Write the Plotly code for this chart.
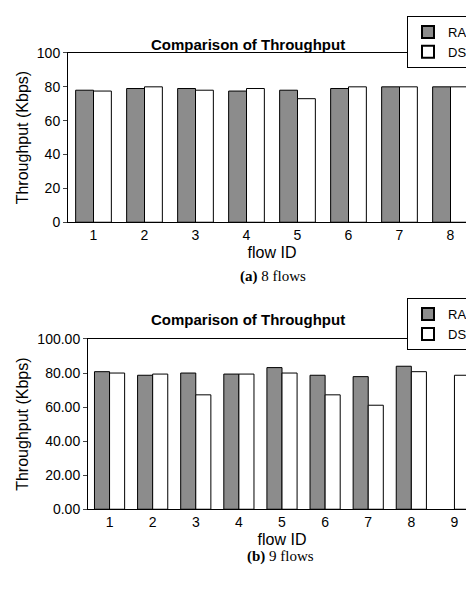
import plotly.graph_objects as go

flows_a = ["1", "2", "3", "4", "5", "6", "7", "8"]
rab_a = [78, 79, 79, 77.5, 78, 79, 80, 80]
dsr_a = [77.5, 80, 78, 79, 73, 80, 80, 80]

flows_b = ["1", "2", "3", "4", "5", "6", "7", "8", "9"]
rab_b = [80.8, 78.7, 80, 79.4, 83.2, 78.7, 77.9, 84, None]
dsr_b = [80, 79.4, 67.2, 79.4, 80, 67.2, 61.1, 80.8, 78.7]

W, H = 474, 590
fig = go.Figure()
mk = dict(line=dict(color="black", width=1))
fig.add_trace(go.Bar(x=flows_a, y=rab_a, name="RAB", marker=dict(color="#8c8c8c", **mk), xaxis="x", yaxis="y", legend="legend"))
fig.add_trace(go.Bar(x=flows_a, y=dsr_a, name="DSR", marker=dict(color="white", **mk), xaxis="x", yaxis="y", legend="legend"))
fig.add_trace(go.Bar(x=flows_b, y=rab_b, name="RAB", marker=dict(color="#8c8c8c", **mk), xaxis="x2", yaxis="y2", legend="legend2"))
fig.add_trace(go.Bar(x=flows_b, y=dsr_b, name="DSR", marker=dict(color="white", **mk), xaxis="x2", yaxis="y2", legend="legend2"))

font = dict(family="Liberation Sans, Arial", size=14, color="black")
ax = dict(showline=True, mirror=True, linecolor="black", linewidth=1, ticks="", showgrid=False,
          title=dict(text="flow ID", font=dict(size=16), standoff=4))
ay = dict(showline=True, mirror=True, linecolor="black", linewidth=1, ticks="outside", ticklen=4,
          showgrid=False, range=[0, 100], dtick=20, zeroline=False,
          title=dict(text="Throughput (Kbps)", font=dict(size=16), standoff=4))

leg = dict(bgcolor="white", bordercolor="black", borderwidth=1, xanchor="right", yanchor="top",
           font=dict(size=13), tracegroupgap=0, itemwidth=30, itemsizing="constant")

fig.update_layout(
    width=W, height=H, margin=dict(l=0, r=0, t=0, b=0), font=font,
    plot_bgcolor="white", paper_bgcolor="white",
    barmode="group", bargap=0.3, bargroupgap=0,
    xaxis=dict(ax, domain=[60 / W, 468 / W], anchor="y"),
    yaxis=dict(ay, domain=[1 - 212 / H, 1 - 38 / H], anchor="x"),
    xaxis2=dict(ax, domain=[80 / W, 468 / W], anchor="y2"),
    yaxis2=dict(ay, domain=[1 - 507 / H, 1 - 332 / H], anchor="x2", tickformat=".2f"),
    legend=dict(leg, x=1, y=1),
    legend2=dict(leg, x=1, y=1 - 290 / H),
)
fig.add_annotation(text="<b>Comparison of Throughput</b>", x=240 / W, y=1 - 18 / H, xref="paper", yref="paper",
                   showarrow=False, font=dict(size=15))
fig.add_annotation(text="<b>Comparison of Throughput</b>", x=240 / W, y=1 - 312 / H, xref="paper", yref="paper",
                   showarrow=False, font=dict(size=15))
cap = dict(family="Liberation Serif, Times New Roman", size=15)
fig.add_annotation(text="<b>(a)</b> 8 flows", x=265 / W, y=1 - 268 / H, xref="paper", yref="paper",
                   showarrow=False, font=cap)
fig.add_annotation(text="<b>(b)</b> 9 flows", x=272 / W, y=1 - 566 / H, xref="paper", yref="paper",
                   showarrow=False, font=cap)

fig.write_html("out.html")
